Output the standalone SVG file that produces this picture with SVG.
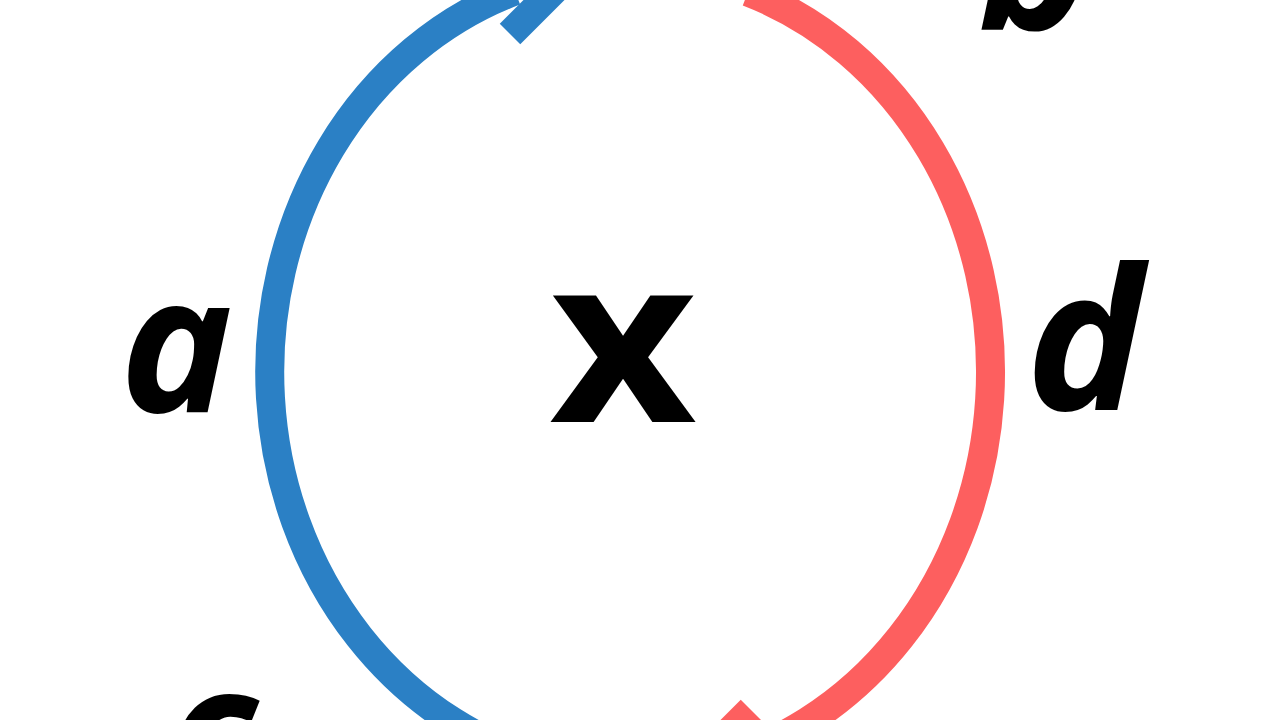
<svg xmlns="http://www.w3.org/2000/svg" width="1280" height="720" viewBox="0 0 1280 720">
<style>
.var{font-family:"Open Sans","Noto Sans",sans-serif;font-weight:700;font-style:italic;font-size:190px;fill:#000}
.mid{font-family:"Open Sans","Noto Sans",sans-serif;font-weight:700;font-size:232px;fill:#000}
.blue{stroke:#2b80c5;fill:none;stroke-width:29}
.red{stroke:#fd5f5f;fill:none;stroke-width:29}
</style>
<rect width="1280" height="720" fill="#fff"/>
<g id="connectors">
<path class="blue" d="M515,-9 A361 402 0 0 0 560,766"/>
<path class="red" d="M748,-8 A361 402 0 0 1 700,766"/>
<line class="blue" x1="510" y1="34" x2="570" y2="-26" stroke-width="27"/>
<line class="red" x1="751" y1="710" x2="696" y2="765" stroke-width="27"/>
</g>
<g id="node-x"><text class="mid" x="0" y="422" text-anchor="middle" transform="translate(623 0) scale(1.1 1)">x</text></g>
<g id="node-a"><text class="var" x="120" y="412">a</text></g>
<g id="node-d"><text class="var" x="1026" y="410" style="font-size:198px">d</text></g>
<g id="node-b"><text class="var" x="978" y="30">b</text></g>
<g id="node-c"><text class="var" x="166" y="800">c</text></g>
</svg>
